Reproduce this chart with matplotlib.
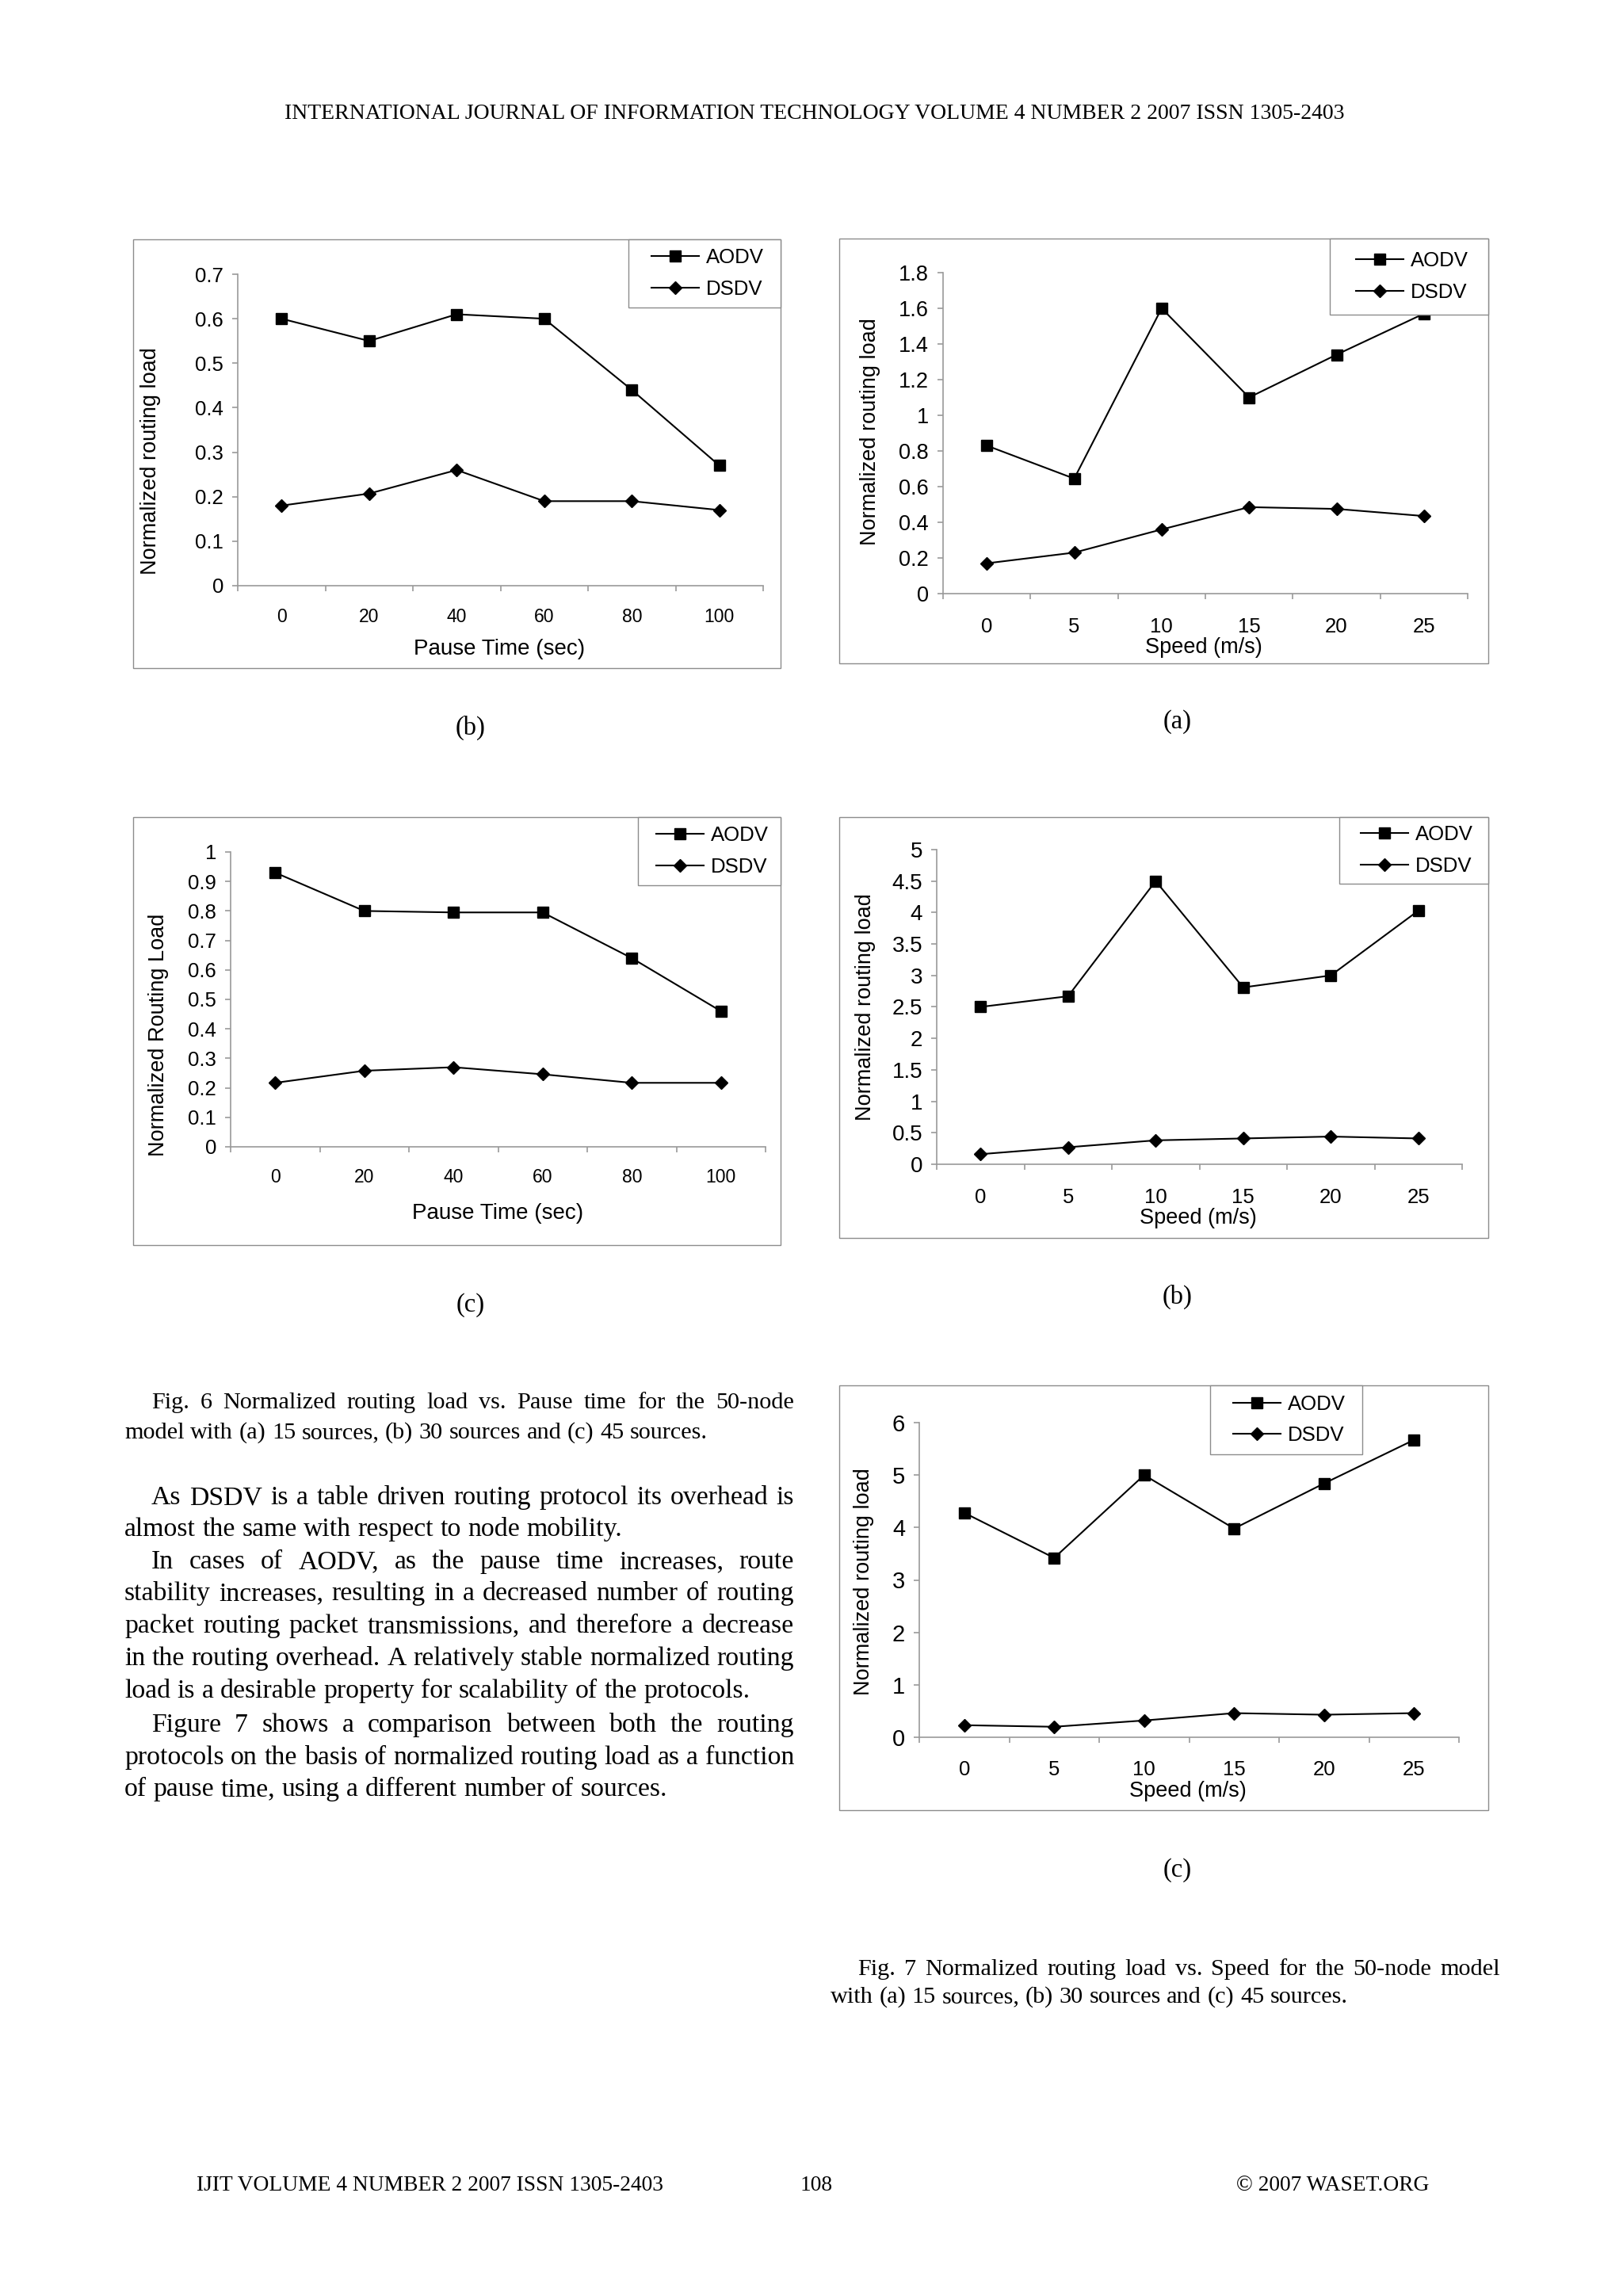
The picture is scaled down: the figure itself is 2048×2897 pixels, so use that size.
import numpy as np
import matplotlib
matplotlib.use('Agg')
import matplotlib.pyplot as plt
from matplotlib.patches import Rectangle

# ---- data ----
pause_time = [0, 20, 40, 60, 80, 100]
speed = [0, 5, 10, 15, 20, 25]

fig6b_aodv = [0.60, 0.55, 0.61, 0.60, 0.44, 0.27]
fig6b_dsdv = [0.18, 0.207, 0.26, 0.19, 0.19, 0.17]

fig6c_aodv = [0.93, 0.80, 0.795, 0.795, 0.64, 0.46]
fig6c_dsdv = [0.217, 0.258, 0.27, 0.246, 0.217, 0.217]

fig7a_aodv = [0.83, 0.645, 1.60, 1.10, 1.34, 1.57]
fig7a_dsdv = [0.17, 0.23, 0.36, 0.485, 0.475, 0.435]

fig7b_aodv = [2.50, 2.67, 4.50, 2.81, 3.00, 4.03]
fig7b_dsdv = [0.16, 0.27, 0.38, 0.41, 0.44, 0.41]

fig7c_aodv = [4.28, 3.42, 5.00, 3.98, 4.84, 5.67]
fig7c_dsdv = [0.23, 0.20, 0.32, 0.46, 0.43, 0.46]

header = "INTERNATIONAL JOURNAL OF INFORMATION TECHNOLOGY VOLUME 4 NUMBER 2 2007 ISSN 1305-2403"
footer_left = "IJIT VOLUME 4 NUMBER 2 2007 ISSN 1305-2403"
footer_mid = "108"
footer_right = "\u00a9 2007 WASET.ORG"

fig6_caption = ["Fig. 6 Normalized routing load vs. Pause time for the 50-node",
                "model with (a) 15 sources, (b) 30 sources and (c) 45 sources."]
fig7_caption = ["Fig. 7 Normalized routing load vs. Speed for the 50-node model",
                "with (a) 15 sources, (b) 30 sources and (c) 45 sources."]
body = [
    ["As DSDV is a table driven routing protocol its overhead is",
     "almost the same with respect to node mobility."],
    ["In cases of AODV, as the pause time increases, route",
     "stability increases, resulting in a decreased number of routing",
     "packet routing packet transmissions, and therefore a decrease",
     "in the routing overhead. A relatively stable normalized routing",
     "load is a desirable property for scalability of the protocols."],
    ["Figure 7 shows a comparison between both the routing",
     "protocols on the basis of normalized routing load as a function",
     "of pause time, using a different number of sources."],
]

W, H = 2048, 2897
fig = plt.figure(figsize=(W / 100, H / 100), dpi=100)
fig.patch.set_facecolor('white')
renderer = fig.canvas.get_renderer()

SANS = 'Liberation Sans'
SERIF = 'Liberation Serif'
GRAY = '#9a9a9a'
BOX = '#8c8c8c'


def fx(x):
    return x / W


def fy(y):
    return 1 - y / H


def px2pt(p):
    return p * 72 / 100


def chart(box, axpx, ymax, ystep, xcats, aodv, dsdv, xlabel, xl, ylabel, yl,
          xty, leg, ysz, xsz, caption, cap):
    # outer frame of the embedded chart
    fig.add_artist(Rectangle((fx(box[0]), fy(box[3])), (box[2] - box[0]) / W,
                             (box[3] - box[1]) / H, transform=fig.transFigure,
                             fill=False, edgecolor=BOX, lw=1.0, zorder=1))
    L, T, R, B = axpx
    ax = fig.add_axes([fx(L), fy(B), (R - L) / W, (B - T) / H])
    ax.set_facecolor('none')
    xi = np.arange(len(xcats))
    ax.plot(xi, aodv, color='black', lw=1.5, marker='s', ms=10.5, label='AODV',
            clip_on=False, zorder=3)
    ax.plot(xi, dsdv, color='black', lw=1.5, marker='D', ms=8.5, label='DSDV',
            clip_on=False, zorder=3)
    ax.set_xlim(-0.5, len(xcats) - 0.5)
    ax.set_ylim(0, ymax)
    for s in ['top', 'right']:
        ax.spines[s].set_visible(False)
    for s in ['left', 'bottom']:
        ax.spines[s].set_color(GRAY)
        ax.spines[s].set_linewidth(1.2)
    yt = np.round(np.arange(0, ymax + ystep / 2, ystep), 3)
    ax.set_yticks(yt)
    ax.set_yticklabels(['%g' % v for v in yt], fontsize=ysz, family=SANS)
    ax.tick_params(axis='y', direction='out', length=5, width=1.2, color=GRAY,
                   pad=px2pt(11))
    # category boundaries carry the tick marks, labels sit at the centres
    ax.set_xticks(np.arange(-0.5, len(xcats), 1.0))
    ax.set_xticklabels([])
    ax.set_xticks(xi, minor=True)
    xsz_px = xsz * 100 / 72
    ax.set_xticklabels([str(c) for c in xcats], minor=True, fontsize=xsz, family=SANS)
    ax.tick_params(axis='x', which='major', direction='out', length=5, width=1.2,
                   color=GRAY)
    ax.tick_params(axis='x', which='minor', length=0,
                   pad=px2pt(xty - B - 0.37 * xsz_px))
    ax.set_xlabel(xlabel, fontsize=20 if 'Pause' in xlabel else 19.5, family=SANS)
    ax.xaxis.set_label_coords(fx(xl[0]), fy(xl[1]), transform=fig.transFigure)
    ax.xaxis.label.set_va('center')
    ax.set_ylabel(ylabel, fontsize=19.5, family=SANS)
    ax.yaxis.set_label_coords(fx(yl[0]), fy(yl[1]), transform=fig.transFigure)
    ax.yaxis.label.set_va('center')

    # legend box sits over the plot (it hides part of a marker in Fig 7a)
    lL, lT, lR, lB = leg
    fig.add_artist(Rectangle((fx(lL), fy(lB)), (lR - lL) / W, (lB - lT) / H,
                             transform=fig.transFigure, facecolor='white',
                             edgecolor=BOX, lw=1.0, zorder=3))
    handles, labels = ax.get_legend_handles_labels()
    lg = fig.legend(handles, labels, loc='center',
                    bbox_to_anchor=(fx((lL + lR) / 2 + 4), fy((lT + lB) / 2)),
                    bbox_transform=fig.transFigure, frameon=False,
                    prop={'family': SANS, 'size': 18.5}, handlelength=2.35,
                    handletextpad=0.35, labelspacing=0.62, borderpad=0)
    lg.set_zorder(5)

    fig.text(fx(cap[0]), fy(cap[1]), caption, family=SERIF, fontsize=23.5,
             ha='center', va='center')
    return ax


chart((168, 302, 985, 843), (300, 346, 963, 739), 0.7, 0.1, pause_time,
      fig6b_aodv, fig6b_dsdv, 'Pause Time (sec)', (630, 819),
      'Normalized routing load', (190, 582), 775, (793, 302, 985, 388),
      18.5, 16.5, '(b)', (594, 918))

chart((1059, 301, 1878, 837), (1190, 344, 1852, 749), 1.8, 0.2, speed,
      fig7a_aodv, fig7a_dsdv, 'Speed (m/s)', (1519, 817),
      'Normalized routing load', (1098, 545), 789, (1678, 301, 1878, 397),
      19.5, 18.5, '(a)', (1486, 911))

chart((168, 1031, 985, 1571), (291, 1075, 966, 1447), 1.0, 0.1, pause_time,
      fig6c_aodv, fig6c_dsdv, 'Pause Time (sec)', (628, 1531),
      'Normalized Routing Load', (200, 1306), 1482, (805, 1031, 985, 1117),
      18.5, 16.5, '(c)', (594, 1647))

chart((1059, 1031, 1878, 1562), (1182, 1072, 1845, 1469), 5, 0.5, speed,
      fig7b_aodv, fig7b_dsdv, 'Speed (m/s)', (1512, 1537),
      'Normalized routing load', (1092, 1271), 1509, (1690, 1031, 1878, 1115),
      20, 18.5, '(b)', (1486, 1636))

chart((1059, 1748, 1878, 2284), (1160, 1795, 1841, 2192), 6, 1, speed,
      fig7c_aodv, fig7c_dsdv, 'Speed (m/s)', (1499, 2260),
      'Normalized routing load', (1090, 1996), 2231, (1527, 1748, 1719, 1835),
      21, 18.5, '(c)', (1486, 2360))


# ---- page text ----
def put_line(line, x0, x1, yc, size, justify):
    words = line.split(' ')
    spx = size * 100 / 72
    ts = [fig.text(0, 0, w, family=SERIF, fontsize=size, va='baseline') for w in words]
    ws = [t.get_window_extent(renderer).width for t in ts]
    if justify and len(words) > 1:
        gap = (x1 - x0 - sum(ws)) / (len(words) - 1)
    else:
        gap = 0.25 * spx
    x = x0
    base = yc + 0.3 * spx
    for t, w in zip(ts, ws):
        t.set_position((fx(x), fy(base)))
        x += w + gap


def put_par(lines, x0, x1, indent, ys, size):
    for i, (ln, y) in enumerate(zip(lines, ys)):
        put_line(ln, x0 + (indent if i == 0 else 0), x1, y, size,
                 justify=(i < len(lines) - 1))


fig.text(fx(1028), fy(143), header, family=SERIF, fontsize=20,
         ha='center', va='center')

put_par(fig6_caption, 157, 1002, 34, [1768, 1806], 21.8)

body_y = [1888, 1928, 1969, 2009, 2050, 2091, 2132, 2175, 2216, 2256]
k = 0
for par in body:
    put_par(par, 157, 1002, 34, body_y[k:k + len(par)], 24.3)
    k += len(par)

put_par(fig7_caption, 1048, 1893, 34, [2483, 2518], 21.8)

fig.text(fx(248), fy(2758), footer_left, family=SERIF, fontsize=19.8,
         ha='left', va='center')
fig.text(fx(1030), fy(2758), footer_mid, family=SERIF, fontsize=19.8,
         ha='center', va='center')
fig.text(fx(1803), fy(2758), footer_right, family=SERIF, fontsize=19.8,
         ha='right', va='center')

fig.savefig('out.png', dpi=100, facecolor='white')
